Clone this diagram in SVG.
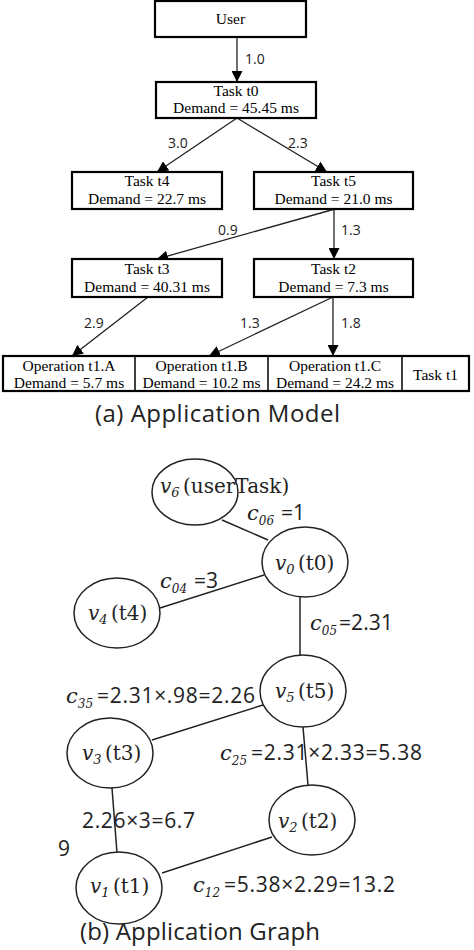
<svg xmlns="http://www.w3.org/2000/svg" width="474" height="950" viewBox="0 0 474 950">
<style>
.box{fill:#fff;stroke:#000;stroke-width:2.2}
.conn{stroke:#222;stroke-width:1.3;fill:none}
.edge{stroke:#222;stroke-width:1.5;fill:none}
.ell{fill:#fff;stroke:#222;stroke-width:1.5}
.bt{font-family:"Liberation Serif",serif;font-size:15.5px;fill:#000;text-anchor:middle}
.wl{font-family:"Open Sans","Liberation Sans",sans-serif;font-size:14px;fill:#222}
.cap{font-family:"Open Sans","Liberation Sans",sans-serif;font-size:24px;fill:#222}
.nl{font-family:"DejaVu Serif","Liberation Serif",serif;font-size:20px;fill:#222}
.it{font-style:italic}
.sub{font-family:"DejaVu Serif","Liberation Serif",serif;font-style:italic;font-size:13px}
.esub{font-family:"DejaVu Serif","Liberation Serif",serif;font-style:italic;font-size:12px}
.el{font-family:"Open Sans","Liberation Sans",sans-serif;font-size:21px;fill:#222}
.ci{font-family:"DejaVu Serif","Liberation Serif",serif;font-style:italic;font-size:21px}
</style>
<defs>
<marker id="ah" markerUnits="userSpaceOnUse" markerWidth="11" markerHeight="11" refX="11" refY="5.5" orient="auto">
<path d="M0,0 L11,5.5 L0,11 z" fill="#000"/>
</marker>
</defs>

<g id="connectors">
<line class="conn" x1="237" y1="37" x2="237" y2="82" marker-end="url(#ah)"/>
<line class="conn" x1="237" y1="118" x2="157" y2="172" marker-end="url(#ah)"/>
<line class="conn" x1="237" y1="118" x2="327" y2="172" marker-end="url(#ah)"/>
<line class="conn" x1="335" y1="209" x2="157" y2="259" marker-end="url(#ah)"/>
<line class="conn" x1="334" y1="209" x2="334" y2="259" marker-end="url(#ah)"/>
<line class="conn" x1="148" y1="297" x2="72" y2="356" marker-end="url(#ah)"/>
<line class="conn" x1="333" y1="297" x2="209" y2="356" marker-end="url(#ah)"/>
<line class="conn" x1="333" y1="297" x2="333" y2="356" marker-end="url(#ah)"/>
<g class="wl">
<text x="245" y="64">1.0</text>
<text x="168" y="148">3.0</text>
<text x="288" y="148">2.3</text>
<text x="218" y="235">0.9</text>
<text x="341" y="235">1.3</text>
<text x="84" y="328">2.9</text>
<text x="240" y="328">1.3</text>
<text x="341" y="328">1.8</text>
</g>
</g>

<g id="user"><rect class="box" x="155" y="1" width="151" height="36"/><text class="bt" x="230.5" y="24">User</text></g>
<g id="t0"><rect class="box" x="156" y="82" width="160" height="36"/><text class="bt" x="236" y="96">Task t0</text><text class="bt" x="236" y="113">Demand = 45.45 ms</text></g>
<g id="t4"><rect class="box" x="72" y="172" width="150" height="37"/><text class="bt" x="147" y="186">Task t4</text><text class="bt" x="147" y="204">Demand = 22.7 ms</text></g>
<g id="t5"><rect class="box" x="254" y="172" width="159" height="37"/><text class="bt" x="333.5" y="186">Task t5</text><text class="bt" x="333.5" y="204">Demand = 21.0 ms</text></g>
<g id="t3"><rect class="box" x="72" y="259" width="150" height="38"/><text class="bt" x="147" y="274">Task t3</text><text class="bt" x="147" y="292">Demand = 40.31 ms</text></g>
<g id="t2"><rect class="box" x="254" y="259" width="159" height="38"/><text class="bt" x="333.5" y="274">Task t2</text><text class="bt" x="333.5" y="292">Demand = 7.3 ms</text></g>
<g id="t1">
<rect class="box" x="3" y="356" width="466" height="35"/>
<line x1="135" y1="356" x2="135" y2="391" stroke="#000" stroke-width="1.5"/>
<line x1="268" y1="356" x2="268" y2="391" stroke="#000" stroke-width="1.5"/>
<line x1="402" y1="356" x2="402" y2="391" stroke="#000" stroke-width="1.5"/>
<text class="bt" x="69" y="371">Operation t1.A</text><text class="bt" x="69" y="388">Demand = 5.7 ms</text>
<text class="bt" x="201.5" y="371">Operation t1.B</text><text class="bt" x="201.5" y="388">Demand = 10.2 ms</text>
<text class="bt" x="335" y="371">Operation t1.C</text><text class="bt" x="335" y="388">Demand = 24.2 ms</text>
<text class="bt" x="435.5" y="380">Task t1</text>
</g>
<text class="cap" x="95" y="422" textLength="245">(a) Application Model</text>

<g id="graph-edges">
<line class="edge" x1="222" y1="520" x2="268" y2="540"/>
<line class="edge" x1="160" y1="608" x2="264" y2="575"/>
<line class="edge" x1="300" y1="597" x2="300" y2="655"/>
<line class="edge" x1="152" y1="740" x2="263" y2="705"/>
<line class="edge" x1="303" y1="727" x2="308" y2="785"/>
<line class="edge" x1="112" y1="788" x2="117" y2="853"/>
<line class="edge" x1="162" y1="873" x2="272" y2="837"/>
<text class="el" x="247" y="520"><tspan class="ci">c</tspan><tspan class="esub" dy="5">06</tspan><tspan dy="-5" x="281">=1</tspan></text>
<text class="el" x="160" y="588"><tspan class="ci">c</tspan><tspan class="esub" dy="5">04</tspan><tspan dy="-5" x="194">=3</tspan></text>
<text class="el" x="310" y="630"><tspan class="ci">c</tspan><tspan class="esub" dy="5">05</tspan><tspan dy="-5" x="339" textLength="54">=2.31</tspan></text>
<text class="el" x="66" y="703"><tspan class="ci">c</tspan><tspan class="esub" dy="5">35</tspan><tspan dy="-5" x="97" textLength="158">=2.31×.98=2.26</tspan></text>
<text class="el" x="220" y="760"><tspan class="ci">c</tspan><tspan class="esub" dy="5">25</tspan><tspan dy="-5" x="251" textLength="171">=2.31×2.33=5.38</tspan></text>
<text class="el" x="82" y="828" textLength="113">2.26×3=6.7</text>
<text class="el" x="58" y="856">9</text>
<text class="el" x="193" y="892"><tspan class="ci">c</tspan><tspan class="esub" dy="5">12</tspan><tspan dy="-5" x="224" textLength="171">=5.38×2.29=13.2</tspan></text>
</g>

<g id="v6"><ellipse class="ell" cx="195" cy="492" rx="43" ry="33"/><text class="nl" x="160" y="493"><tspan class="it">v</tspan><tspan class="sub" dy="4">6</tspan><tspan dy="-4" x="183">(userTask)</tspan></text></g>
<g id="v0"><ellipse class="ell" cx="305" cy="562" rx="43" ry="35"/><text class="nl" x="275" y="570"><tspan class="it">v</tspan><tspan class="sub" dy="4">0</tspan><tspan dy="-4" x="298">(t0)</tspan></text></g>
<g id="v4"><ellipse class="ell" cx="117" cy="613" rx="43" ry="35"/><text class="nl" x="88" y="620"><tspan class="it">v</tspan><tspan class="sub" dy="4">4</tspan><tspan dy="-4" x="111">(t4)</tspan></text></g>
<g id="v5"><ellipse class="ell" cx="303" cy="691" rx="43" ry="36"/><text class="nl" x="275" y="698"><tspan class="it">v</tspan><tspan class="sub" dy="4">5</tspan><tspan dy="-4" x="298">(t5)</tspan></text></g>
<g id="v3"><ellipse class="ell" cx="110" cy="753" rx="43" ry="35"/><text class="nl" x="82" y="760"><tspan class="it">v</tspan><tspan class="sub" dy="4">3</tspan><tspan dy="-4" x="105">(t3)</tspan></text></g>
<g id="v2"><ellipse class="ell" cx="312" cy="820" rx="43" ry="35"/><text class="nl" x="278" y="828"><tspan class="it">v</tspan><tspan class="sub" dy="4">2</tspan><tspan dy="-4" x="301">(t2)</tspan></text></g>
<g id="v1"><ellipse class="ell" cx="119" cy="888" rx="43" ry="36"/><text class="nl" x="90" y="893"><tspan class="it">v</tspan><tspan class="sub" dy="4">1</tspan><tspan dy="-4" x="113">(t1)</tspan></text></g>
<text class="cap" x="80" y="940" textLength="240">(b) Application Graph</text>
</svg>
